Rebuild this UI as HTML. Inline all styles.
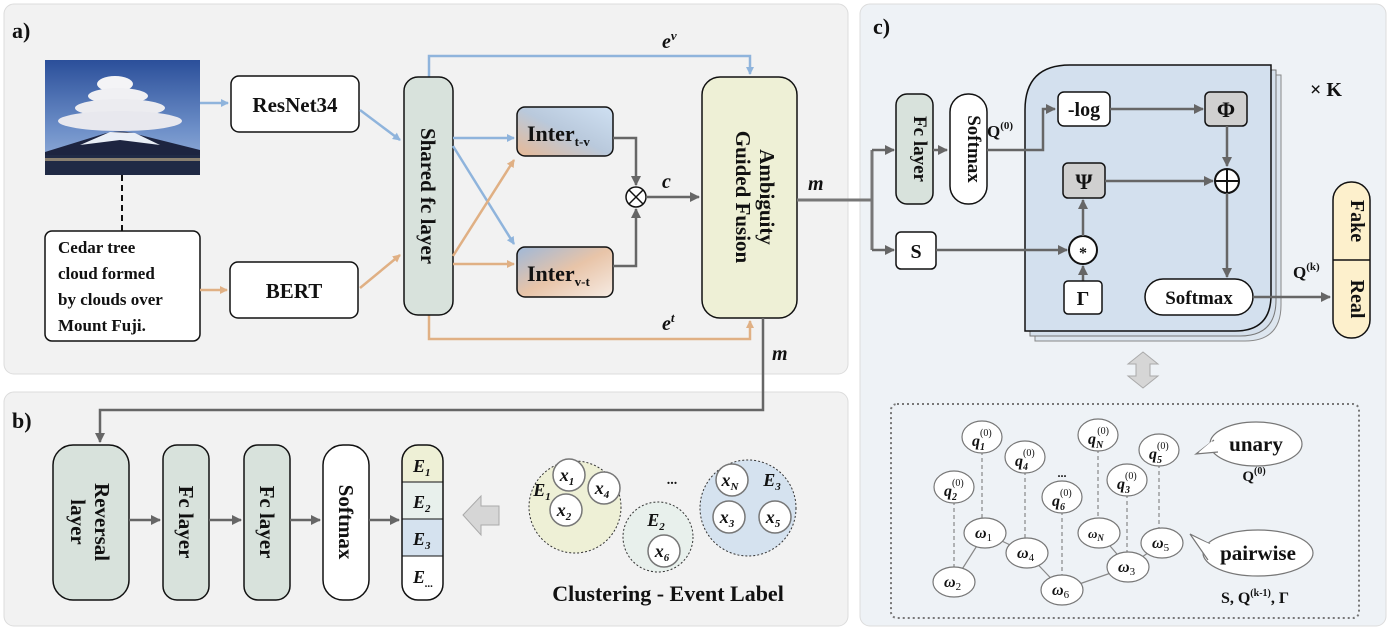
<!DOCTYPE html>
<html><head><meta charset="utf-8"><style>
html,body{margin:0;padding:0;background:#fff}
svg{display:block}
text{font-family:"Liberation Serif",serif;font-weight:bold;fill:#111}
</style></head><body>
<svg width="1390" height="630" viewBox="0 0 1390 630" xmlns="http://www.w3.org/2000/svg">
<defs>
<marker id="ab" markerWidth="8" markerHeight="8" refX="7" refY="4" orient="auto" markerUnits="userSpaceOnUse"><path d="M0,0 L8,4 L0,8 z" fill="#8fb4dc"/></marker>
<marker id="ao" markerWidth="8" markerHeight="8" refX="7" refY="4" orient="auto" markerUnits="userSpaceOnUse"><path d="M0,0 L8,4 L0,8 z" fill="#e0b084"/></marker>
<marker id="ag" markerWidth="10" markerHeight="10" refX="9" refY="5" orient="auto" markerUnits="userSpaceOnUse"><path d="M0,0 L10,5 L0,10 z" fill="#666"/></marker>
<linearGradient id="g1" x1="0" y1="1" x2="1" y2="0"><stop offset="0" stop-color="#e8b995"/><stop offset="0.5" stop-color="#b9c9dc"/><stop offset="1" stop-color="#cfe0f2"/></linearGradient>
<linearGradient id="g2" x1="0" y1="0" x2="1" y2="1"><stop offset="0" stop-color="#9fb8d8"/><stop offset="0.5" stop-color="#e8c4a8"/><stop offset="1" stop-color="#f6ebe3"/></linearGradient>
<linearGradient id="sky" x1="0" y1="0" x2="0" y2="1"><stop offset="0" stop-color="#2b4f9a"/><stop offset="0.6" stop-color="#6d8fc8"/><stop offset="1" stop-color="#9fb7de"/></linearGradient>
</defs>

<rect x="4" y="4" width="844" height="370" rx="10" fill="#f2f2f2" stroke="#dcdcdc"/>
<rect x="4" y="392" width="844" height="234" rx="10" fill="#f2f2f2" stroke="#dcdcdc"/>
<rect x="860" y="4" width="526" height="622" rx="10" fill="#eef2f6" stroke="#dcdcdc"/>
<text x="12" y="38" font-size="22">a)</text>
<text x="12" y="428" font-size="22">b)</text>
<text x="873" y="34" font-size="22">c)</text>

<rect x="45" y="60" width="155" height="115" fill="url(#sky)"/>
<ellipse cx="115" cy="84" rx="18" ry="8" fill="#f4f4f6"/>
<ellipse cx="118" cy="96" rx="30" ry="8" fill="#f0f0f3"/>
<ellipse cx="120" cy="108" rx="45" ry="9" fill="#ececf0"/>
<ellipse cx="120" cy="121" rx="62" ry="10" fill="#e8e8ee"/>
<path d="M45,152 L100,135 Q120,128 140,135 L200,150 L200,160 L45,160 z" fill="#1d2440"/>
<path d="M80,145 L110,132 L135,133 L160,145 L120,140 z" fill="#e9eef6"/>
<rect x="45" y="155" width="155" height="20" fill="#202a45"/>
<rect x="45" y="158" width="155" height="3" fill="#8a8070"/>
<line x1="122" y1="175" x2="122" y2="231" stroke="#111" stroke-width="2" stroke-dasharray="6,4"/>

<rect x="45" y="231" width="155" height="110" rx="7" fill="#fff" stroke="#111" stroke-width="1.5"/>
<text x="58" y="253" font-size="17">Cedar tree</text>
<text x="58" y="279" font-size="17">cloud formed</text>
<text x="58" y="305" font-size="17">by clouds over</text>
<text x="58" y="331" font-size="17">Mount Fuji.</text>

<rect x="231" y="76" width="128" height="56" rx="8" fill="#fff" stroke="#111" stroke-width="1.5"/>
<text x="295" y="112" font-size="21" text-anchor="middle">ResNet34</text>
<rect x="230" y="262" width="128" height="56" rx="8" fill="#fff" stroke="#111" stroke-width="1.5"/>
<text x="294" y="298" font-size="21" text-anchor="middle">BERT</text>

<line x1="200" y1="103" x2="228" y2="103" stroke="#8fb4dc" stroke-width="2.5" marker-end="url(#ab)"/>
<line x1="200" y1="290" x2="227" y2="290" stroke="#e0b084" stroke-width="2.5" marker-end="url(#ao)"/>
<line x1="360" y1="110" x2="400" y2="140" stroke="#8fb4dc" stroke-width="2.5" marker-end="url(#ab)"/>
<line x1="360" y1="288" x2="400" y2="255" stroke="#e0b084" stroke-width="2.5" marker-end="url(#ao)"/>

<path d="M429,77 L429,56 L750,56 L750,74" fill="none" stroke="#8fb4dc" stroke-width="2.5" marker-end="url(#ab)"/>
<path d="M429,315 L429,339 L750,339 L750,321" fill="none" stroke="#e0b084" stroke-width="2.5" marker-end="url(#ao)"/>
<text x="662" y="48" font-size="20" font-style="italic">e<tspan font-size="13" dy="-8">v</tspan></text>
<text x="662" y="330" font-size="20" font-style="italic">e<tspan font-size="13" dy="-8">t</tspan></text>

<rect x="404" y="77" width="49" height="238" rx="14" fill="#d8e2dc" stroke="#111" stroke-width="1.5"/>
<text transform="translate(421,196) rotate(90)" font-size="21" text-anchor="middle">Shared fc layer</text>

<line x1="453" y1="138" x2="514" y2="138" stroke="#8fb4dc" stroke-width="2.5" marker-end="url(#ab)"/>
<line x1="453" y1="146" x2="514" y2="244" stroke="#8fb4dc" stroke-width="2.5" marker-end="url(#ab)"/>
<line x1="453" y1="256" x2="514" y2="160" stroke="#e0b084" stroke-width="2.5" marker-end="url(#ao)"/>
<line x1="453" y1="264" x2="514" y2="264" stroke="#e0b084" stroke-width="2.5" marker-end="url(#ao)"/>

<rect x="517" y="107" width="96" height="49" rx="8" fill="url(#g1)" stroke="#111" stroke-width="1.5"/>
<text x="527" y="141" font-size="22">Inter<tspan font-size="13" dy="5">t-v</tspan></text>
<rect x="517" y="247" width="96" height="50" rx="8" fill="url(#g2)" stroke="#111" stroke-width="1.5"/>
<text x="527" y="281" font-size="22">Inter<tspan font-size="13" dy="5">v-t</tspan></text>

<path d="M613,138 L636,138 L636,185" fill="none" stroke="#666" stroke-width="2.5" marker-end="url(#ag)"/>
<path d="M613,266 L636,266 L636,209" fill="none" stroke="#666" stroke-width="2.5" marker-end="url(#ag)"/>
<circle cx="636" cy="197" r="10" fill="#fff" stroke="#111" stroke-width="1.5"/>
<path d="M629,190 L643,204 M643,190 L629,204" stroke="#111" stroke-width="1.5"/>
<line x1="646" y1="197" x2="699" y2="197" stroke="#666" stroke-width="2.5" marker-end="url(#ag)"/>
<text x="662" y="188" font-size="20" font-style="italic">c</text>

<rect x="702" y="77" width="95" height="241" rx="18" fill="#eef0d6" stroke="#111" stroke-width="1.5"/>
<text transform="translate(748,197) rotate(90)" font-size="21" text-anchor="middle"><tspan x="0" dy="-12">Ambiguity</tspan><tspan x="0" dy="24">Guided  Fusion</tspan></text>

<path d="M797,200 L872,200" stroke="#777" stroke-width="3" fill="none"/>
<text x="808" y="190" font-size="20" font-style="italic">m</text>
<path d="M763,318 L763,410 L100,410 L100,442" stroke="#666" stroke-width="2.5" fill="none" marker-end="url(#ag)"/>
<text x="772" y="360" font-size="20" font-style="italic">m</text>

<rect x="53" y="445" width="76" height="155" rx="20" fill="#d8e2dc" stroke="#111" stroke-width="1.5"/>
<text transform="translate(91,522) rotate(90)" font-size="21" text-anchor="middle"><tspan x="0" dy="-4">Reversal</tspan><tspan x="0" dy="24">layer</tspan></text>
<rect x="163" y="445" width="46" height="155" rx="14" fill="#d8e2dc" stroke="#111" stroke-width="1.5"/>
<text transform="translate(179,522) rotate(90)" font-size="21" text-anchor="middle">Fc layer</text>
<rect x="244" y="445" width="46" height="155" rx="14" fill="#d8e2dc" stroke="#111" stroke-width="1.5"/>
<text transform="translate(260,522) rotate(90)" font-size="21" text-anchor="middle">Fc layer</text>
<rect x="323" y="445" width="46" height="155" rx="20" fill="#fff" stroke="#111" stroke-width="1.5"/>
<text transform="translate(339,522) rotate(90)" font-size="21" text-anchor="middle">Softmax</text>
<line x1="129" y1="520" x2="160" y2="520" stroke="#666" stroke-width="2.5" marker-end="url(#ag)"/>
<line x1="209" y1="520" x2="241" y2="520" stroke="#666" stroke-width="2.5" marker-end="url(#ag)"/>
<line x1="290" y1="520" x2="320" y2="520" stroke="#666" stroke-width="2.5" marker-end="url(#ag)"/>
<line x1="369" y1="520" x2="399" y2="520" stroke="#666" stroke-width="2.5" marker-end="url(#ag)"/>

<clipPath id="ec"><rect x="402" y="445" width="41" height="155" rx="16"/></clipPath>
<g clip-path="url(#ec)">
<rect x="402" y="445" width="41" height="37" fill="#eef0d6"/>
<rect x="402" y="482" width="41" height="37" fill="#e8f0ec"/>
<rect x="402" y="519" width="41" height="37" fill="#d5e2ef"/>
<rect x="402" y="556" width="41" height="44" fill="#fff"/>
</g>
<rect x="402" y="445" width="41" height="155" rx="16" fill="none" stroke="#111" stroke-width="1.5"/>
<path d="M402,482 H443 M402,519 H443 M402,556 H443" stroke="#111" stroke-width="1"/>
<g font-size="18" font-style="italic">
<text x="413" y="472">E<tspan font-size="11" dy="4">1</tspan></text>
<text x="413" y="508">E<tspan font-size="11" dy="4">2</tspan></text>
<text x="413" y="545">E<tspan font-size="11" dy="4">3</tspan></text>
<text x="413" y="583">E<tspan font-size="11" dy="4">...</tspan></text>
</g>

<path d="M463,515 L481,496 L481,506 L499,506 L499,525 L481,525 L481,535 z" fill="#d6d6d6" stroke="#aaa"/>

<circle cx="575" cy="507" r="46" fill="#eef0d6" stroke="#333" stroke-dasharray="2,2"/>
<circle cx="658" cy="537" r="35" fill="#e8f0ec" stroke="#333" stroke-dasharray="2,2"/>
<circle cx="748" cy="508" r="48" fill="#d5e2ef" stroke="#333" stroke-dasharray="2,2"/>
<g fill="#fff" stroke="#777" stroke-width="1.5">
<circle cx="569" cy="475" r="16"/><circle cx="604" cy="488" r="16"/><circle cx="566" cy="510" r="16"/>
<circle cx="664" cy="551" r="16"/>
<circle cx="732" cy="480" r="16"/><circle cx="729" cy="517" r="16"/><circle cx="775" cy="517" r="16"/>
</g>
<g font-size="18" font-style="italic" text-anchor="middle">
<text x="567" y="481">x<tspan font-size="11" dy="4">1</tspan></text>
<text x="602" y="494">x<tspan font-size="11" dy="4">4</tspan></text>
<text x="564" y="516">x<tspan font-size="11" dy="4">2</tspan></text>
<text x="662" y="557">x<tspan font-size="11" dy="4">6</tspan></text>
<text x="730" y="486">x<tspan font-size="11" dy="4">N</tspan></text>
<text x="727" y="523">x<tspan font-size="11" dy="4">3</tspan></text>
<text x="773" y="523">x<tspan font-size="11" dy="4">5</tspan></text>
<text x="542" y="496">E<tspan font-size="11" dy="4">1</tspan></text>
<text x="656" y="526">E<tspan font-size="11" dy="4">2</tspan></text>
<text x="772" y="486">E<tspan font-size="11" dy="4">3</tspan></text>
</g>
<text x="672" y="484" font-size="14" text-anchor="middle" font-weight="normal">...</text>
<text x="668" y="601" font-size="22" text-anchor="middle">Clustering - Event Label</text>

<path d="M872,150 L872,250" stroke="#777" stroke-width="3" fill="none"/>
<line x1="872" y1="150" x2="894" y2="150" stroke="#666" stroke-width="2.5" marker-end="url(#ag)"/>
<line x1="872" y1="250" x2="894" y2="250" stroke="#666" stroke-width="2.5" marker-end="url(#ag)"/>
<rect x="896" y="94" width="37" height="110" rx="11" fill="#d8e2dc" stroke="#111" stroke-width="1.5"/>
<text transform="translate(914,149) rotate(90)" font-size="19" text-anchor="middle">Fc layer</text>
<rect x="950" y="94" width="37" height="110" rx="18" fill="#fff" stroke="#111" stroke-width="1.5"/>
<text transform="translate(968,149) rotate(90)" font-size="19" text-anchor="middle">Softmax</text>
<line x1="933" y1="150" x2="947" y2="150" stroke="#666" stroke-width="2.5" marker-end="url(#ag)"/>
<text x="987" y="137" font-size="17">Q<tspan font-size="11" dy="-8">(0)</tspan></text>
<rect x="896" y="232" width="40" height="37" rx="5" fill="#fff" stroke="#111" stroke-width="1.5"/>
<text x="916" y="258" font-size="20" text-anchor="middle">S</text>

<path d="M1060,75 H1281 V305 Q1281,341 1245,341 H1035 V110 Q1035,75 1060,75 z" fill="#dde6ef" stroke="#888"/>
<path d="M1055,70 H1276 V300 Q1276,336 1240,336 H1030 V105 Q1030,70 1055,70 z" fill="#d5e0ec" stroke="#777"/>
<path d="M1070,65 H1271 V295 Q1271,331 1235,331 H1025 V110 Q1025,65 1070,65 z" fill="#d3e0ee" stroke="#111" stroke-width="1.5"/>
<text x="1310" y="96" font-size="20">× K</text>

<path d="M987,150 L1043,150 L1043,109 L1055,109" fill="none" stroke="#666" stroke-width="2.5" marker-end="url(#ag)"/>
<rect x="1058" y="92" width="52" height="34" rx="6" fill="#fff" stroke="#111" stroke-width="1.5"/>
<text x="1084" y="116" font-size="20" text-anchor="middle">-log</text>
<line x1="1110" y1="109" x2="1203" y2="109" stroke="#666" stroke-width="2.5" marker-end="url(#ag)"/>
<rect x="1205" y="92" width="42" height="34" rx="5" fill="#d0d0d0" stroke="#111" stroke-width="1.5"/>
<text x="1226" y="117" font-size="22" text-anchor="middle" font-weight="normal">Φ</text>
<line x1="1227" y1="126" x2="1227" y2="166" stroke="#666" stroke-width="2.5" marker-end="url(#ag)"/>
<rect x="1063" y="163" width="42" height="35" rx="5" fill="#d0d0d0" stroke="#111" stroke-width="1.5"/>
<text x="1084" y="189" font-size="22" text-anchor="middle" font-weight="normal">Ψ</text>
<line x1="1105" y1="181" x2="1213" y2="181" stroke="#666" stroke-width="2.5" marker-end="url(#ag)"/>
<circle cx="1227" cy="181" r="12" fill="#fff" stroke="#111" stroke-width="2"/>
<path d="M1215,181 H1239 M1227,169 V193" stroke="#111" stroke-width="2"/>
<line x1="1227" y1="193" x2="1227" y2="277" stroke="#666" stroke-width="2.5" marker-end="url(#ag)"/>
<line x1="936" y1="250" x2="1067" y2="250" stroke="#666" stroke-width="2.5" marker-end="url(#ag)"/>
<circle cx="1083" cy="250" r="14" fill="#fff" stroke="#111" stroke-width="2"/>
<text x="1083" y="258" font-size="16" text-anchor="middle" font-weight="normal">*</text>
<line x1="1083" y1="236" x2="1083" y2="200" stroke="#666" stroke-width="2.5" marker-end="url(#ag)"/>
<line x1="1083" y1="281" x2="1083" y2="266" stroke="#666" stroke-width="2.5" marker-end="url(#ag)"/>
<rect x="1064" y="281" width="38" height="33" rx="4" fill="#fff" stroke="#111" stroke-width="1.5"/>
<text x="1083" y="305" font-size="20" text-anchor="middle">Γ</text>
<rect x="1145" y="279" width="108" height="36" rx="18" fill="#fff" stroke="#111" stroke-width="1.5"/>
<text x="1199" y="304" font-size="19" text-anchor="middle">Softmax</text>
<line x1="1253" y1="297" x2="1330" y2="297" stroke="#666" stroke-width="2.5" marker-end="url(#ag)"/>
<text x="1293" y="278" font-size="17">Q<tspan font-size="11" dy="-8">(k)</tspan></text>

<rect x="1333" y="182" width="37" height="156" rx="18" fill="#fdf0cc" stroke="#111" stroke-width="1.5"/>
<line x1="1333" y1="260" x2="1370" y2="260" stroke="#111" stroke-width="1.5"/>
<text transform="translate(1351,221) rotate(90)" font-size="20" text-anchor="middle">Fake</text>
<text transform="translate(1351,299) rotate(90)" font-size="20" text-anchor="middle">Real</text>

<path d="M1143,352 L1158,364 L1150,364 L1150,376 L1158,376 L1143,388 L1128,376 L1136,376 L1136,364 L1128,364 z" fill="#d6d6d6" stroke="#aaa"/>

<rect x="891" y="404" width="468" height="214" rx="6" fill="none" stroke="#777" stroke-width="2" stroke-dasharray="2,3"/>
<g stroke="#888" stroke-width="1.2" stroke-dasharray="4,3">
<path d="M982,437 V533 M1025,457 V553 M1098,435 V533 M1159,450 V543 M1127,480 V567 M954,487 V582 M1062,497 V590"/>
</g>
<g stroke="#888" stroke-width="1.2">
<path d="M985,533 L954,582 M985,533 L1027,553 M1027,553 L1062,590 M1062,590 L1128,567 M1099,533 L1128,567 M1128,567 L1162,543"/>
</g>
<g fill="#fff" stroke="#777" stroke-width="1.2">
<ellipse cx="982" cy="437" rx="20" ry="16"/><ellipse cx="1025" cy="457" rx="20" ry="16"/>
<ellipse cx="1098" cy="435" rx="20" ry="16"/><ellipse cx="1159" cy="450" rx="20" ry="16"/>
<ellipse cx="1127" cy="480" rx="20" ry="16"/><ellipse cx="954" cy="487" rx="20" ry="16"/>
<ellipse cx="1062" cy="497" rx="20" ry="16"/>
<ellipse cx="985" cy="533" rx="21" ry="15"/><ellipse cx="1027" cy="553" rx="21" ry="15"/>
<ellipse cx="1099" cy="533" rx="21" ry="15"/><ellipse cx="1162" cy="543" rx="21" ry="15"/>
<ellipse cx="1128" cy="567" rx="21" ry="15"/><ellipse cx="954" cy="582" rx="21" ry="15"/>
<ellipse cx="1062" cy="590" rx="21" ry="15"/>
</g>
<g font-size="16" font-style="italic">
<text x="972" y="446">q<tspan font-size="10" dy="4">1</tspan><tspan font-size="10" dy="-14" dx="-5" font-style="normal" font-weight="normal">(0)</tspan></text>
<text x="1015" y="466">q<tspan font-size="10" dy="4">4</tspan><tspan font-size="10" dy="-14" dx="-5" font-style="normal" font-weight="normal">(0)</tspan></text>
<text x="1088" y="444">q<tspan font-size="10" dy="4">N</tspan><tspan font-size="10" dy="-14" dx="-6" font-style="normal" font-weight="normal">(0)</tspan></text>
<text x="1149" y="459">q<tspan font-size="10" dy="4">5</tspan><tspan font-size="10" dy="-14" dx="-5" font-style="normal" font-weight="normal">(0)</tspan></text>
<text x="1117" y="489">q<tspan font-size="10" dy="4">3</tspan><tspan font-size="10" dy="-14" dx="-5" font-style="normal" font-weight="normal">(0)</tspan></text>
<text x="944" y="496">q<tspan font-size="10" dy="4">2</tspan><tspan font-size="10" dy="-14" dx="-5" font-style="normal" font-weight="normal">(0)</tspan></text>
<text x="1052" y="506">q<tspan font-size="10" dy="4">6</tspan><tspan font-size="10" dy="-14" dx="-5" font-style="normal" font-weight="normal">(0)</tspan></text>
<text x="975" y="538">ω<tspan font-size="11" dy="3" font-style="normal" font-weight="normal">1</tspan></text>
<text x="1017" y="558">ω<tspan font-size="11" dy="3" font-style="normal" font-weight="normal">4</tspan></text>
<text x="1088" y="538" font-size="13">ω<tspan font-size="9" dy="3">N</tspan></text>
<text x="1152" y="548">ω<tspan font-size="11" dy="3" font-style="normal" font-weight="normal">5</tspan></text>
<text x="1118" y="572">ω<tspan font-size="11" dy="3" font-style="normal" font-weight="normal">3</tspan></text>
<text x="944" y="587">ω<tspan font-size="11" dy="3" font-style="normal" font-weight="normal">2</tspan></text>
<text x="1052" y="595">ω<tspan font-size="11" dy="3" font-style="normal" font-weight="normal">6</tspan></text>
</g>
<text x="1062" y="477" font-size="12" text-anchor="middle" font-weight="normal">...</text>

<ellipse cx="1256" cy="444" rx="46" ry="22" fill="#fff" stroke="#777" stroke-width="1.2"/>
<path d="M1214,440 L1196,454 L1218,452" fill="#fff" stroke="#777" stroke-width="1.2"/>
<path d="M1212,441 L1199,452 L1219,450 z" fill="#fff"/>
<text x="1256" y="451" font-size="21" text-anchor="middle">unary</text>
<text x="1254" y="481" font-size="15" text-anchor="middle">Q<tspan font-size="10" dy="-7">(0)</tspan></text>
<ellipse cx="1258" cy="553" rx="55" ry="23" fill="#fff" stroke="#777" stroke-width="1.2"/>
<path d="M1210,544 L1190,534 L1208,560" fill="#fff" stroke="#777" stroke-width="1.2"/>
<path d="M1212,545 L1194,537 L1210,558 z" fill="#fff"/>
<text x="1258" y="560" font-size="21" text-anchor="middle">pairwise</text>
<text x="1255" y="603" font-size="16" text-anchor="middle">S, Q<tspan font-size="10" dy="-7">(k-1)</tspan><tspan dy="7">, Γ</tspan></text>
</svg>
</body></html>
